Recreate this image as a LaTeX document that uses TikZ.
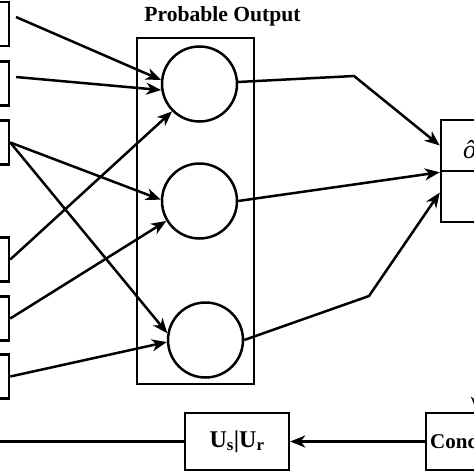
\documentclass[tikz,border=0pt]{standalone}
\usepackage{fontspec}
\setmainfont{Liberation Serif}
\usetikzlibrary{arrows.meta}
\tikzset{
  ln/.style={line width=2.5pt},
  arr/.style={ln, -{Stealth[length=15pt,width=12pt,inset=4.5pt]}},
  lbox/.style={draw, ln, minimum width=29pt, minimum height=44pt, inner sep=0pt},
  circ/.style={draw, ln, circle, minimum size=75pt, inner sep=0pt},
  rbox/.style={draw, ln, minimum width=80pt, minimum height=51pt, inner sep=0pt},
  bbox/.style={draw, ln, minimum height=57pt, inner sep=0pt},
  lbl/.style={font=\fontsize{21}{24}\selectfont\bfseries}
}
\begin{document}
\begin{tikzpicture}[x=1pt,y=-1pt]
\useasboundingbox (0,0) rectangle (474,474);
\clip (0,0) rectangle (474,474);
% left input boxes
\node[lbox] (L1) at (-5.5,24) {};
\node[lbox] (L2) at (-5.5,83.5) {};
\node[lbox] (L3) at (-5.5,142.5) {};
\node[lbox] (L4) at (-5.5,259.5) {};
\node[lbox] (L5) at (-5.5,318.5) {};
\node[lbox] (L6) at (-5.5,376.5) {};
% probable output container
\node[draw, ln, minimum width=117pt, minimum height=346pt, inner sep=0pt] (P) at (195.5,211) {};
\node[font=\fontsize{21.6}{24}\selectfont\bfseries] (T) at (222.5,16) {Probable Output};
% circles
\node[circ] (C1) at (199.5,84) {};
\node[circ] (C2) at (199.5,201) {};
\node[circ] (C3) at (205.5,340) {};
% right box
\node[rbox] (R1) at (481,145.5) {};
\node[rbox] (R2) at (481,196.5) {};
\node[anchor=west, inner sep=0pt, font=\fontsize{26}{28}\selectfont\itshape] (OH) at (463,150) {ô};
% bottom boxes
\node[bbox, minimum width=104pt, font=\fontsize{24}{26}\selectfont\bfseries] (U) at (237,441.5) {U\textsubscript{s}|U\textsubscript{r}};
\node[bbox, minimum width=110pt] (Cc) at (481,441.5) {};
\node[anchor=west, inner sep=0pt, lbl] (CT) at (430,441.5) {Conc};
% coordinates
\coordinate (s1) at (16,17);
\coordinate (s2) at (16,77);
\coordinate (b1) at (354,76);
\coordinate (b3) at (369,296);
\coordinate (lft) at (-5,441.5);
% input arrows
\draw[arr] (s1) -- (C1.174);
\draw[arr] (s2) -- (C1.189);
\draw[arr] (L4.east) -- (C1.225);
\draw[arr] (L3.east) -- (C2.178);
\draw[arr] (L5.east) -- (C2.211);
\draw[arr] (L3.east) -- (C3.170);
\draw[arr] (L6.east) -- (C3.183);
% output arrows
\draw[arr] (C1.3) -- (b1) -- (R1.west);
\draw[arr] (C2.east) -- (R1.south west);
\draw[arr] (C3.east) -- (b3) -- ([yshift=4pt]R2.west);
% bottom
\draw[ln] (lft) -- (U.west);
\draw[arr] (Cc.west) -- (U.east);
\draw[arr] ([xshift=-4pt]R2.south) -- ([xshift=-4pt]Cc.north);
\end{tikzpicture}
\end{document}
